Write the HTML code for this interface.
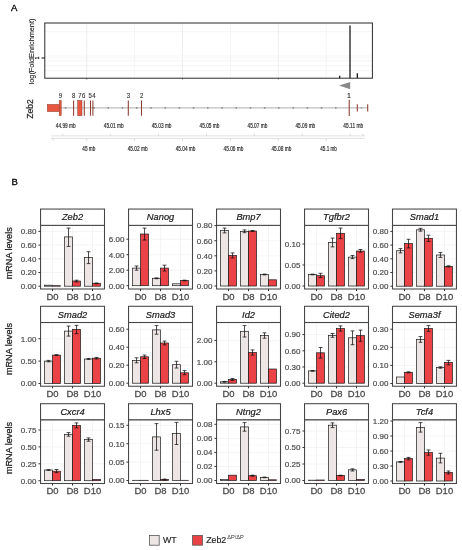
<!DOCTYPE html>
<html lang="en"><head><meta charset="utf-8"><title>Figure</title>
<style>html,body{margin:0;padding:0;background:#fff}svg{display:block}</style></head>
<body>
<svg width="462" height="550" viewBox="0 0 462 550" font-family='"Liberation Sans", sans-serif'>
<rect width="462" height="550" fill="#fff"/>
<defs><filter id="soft" x="0" y="0" width="462" height="550" filterUnits="userSpaceOnUse"><feGaussianBlur stdDeviation="0.32"/></filter></defs>
<g filter="url(#soft)">
<text transform="translate(10.90,10.60) scale(1,1)" font-size="9.5" fill="#000" stroke="#000" stroke-width="0.3">A</text>
<g stroke="#e2e2e2" stroke-width="0.6">
<line x1="86.70" y1="23.0" x2="86.70" y2="78.2"/>
<line x1="182.54" y1="23.0" x2="182.54" y2="78.2"/>
<line x1="278.38" y1="23.0" x2="278.38" y2="78.2"/>
</g>
<g stroke="#ededed" stroke-width="0.5">
<line x1="134.62" y1="23.0" x2="134.62" y2="78.2"/>
<line x1="230.46" y1="23.0" x2="230.46" y2="78.2"/>
<line x1="326.30" y1="23.0" x2="326.30" y2="78.2"/>
<line x1="44.8" y1="31.7" x2="372.4" y2="31.7"/>
<line x1="44.8" y1="56.0" x2="372.4" y2="56.0"/>
<line x1="44.8" y1="58.0" x2="372.4" y2="58.0"/>
<line x1="44.8" y1="60.8" x2="372.4" y2="60.8"/>
<line x1="44.8" y1="65.7" x2="372.4" y2="65.7"/>
<line x1="44.8" y1="70.6" x2="372.4" y2="70.6"/>
</g>
<g stroke="#111" stroke-width="1.25">
<line x1="350.0" y1="25.6" x2="350.0" y2="78.2"/>
<line x1="339.7" y1="75.8" x2="339.7" y2="78.2"/>
<line x1="357.3" y1="73.2" x2="357.3" y2="78.2"/>
</g>
<rect x="44.8" y="23.0" width="327.60" height="55.20" fill="none" stroke="#2a2a2a" stroke-width="1"/>
<g stroke="#333" stroke-width="0.6">
<line x1="86.70" y1="78.2" x2="86.70" y2="79.60000000000001"/>
<line x1="182.54" y1="78.2" x2="182.54" y2="79.60000000000001"/>
<line x1="278.38" y1="78.2" x2="278.38" y2="79.60000000000001"/>
<line x1="41.599999999999994" y1="58" x2="44.8" y2="58" stroke-width="1.1" stroke="#222"/>
</g>
<text transform="translate(38.7,58) rotate(-90)" font-size="4.7" stroke="#222" stroke-width="0.4" text-anchor="middle" fill="#222">1</text>
<text transform="translate(34.00,51.50) scale(1,1) rotate(-90)" font-size="7.3" text-anchor="middle" fill="#1a1a1a" stroke="#1a1a1a" stroke-width="0.1">log(FoldEnrichment)</text>
<polygon points="339,85.6 350.2,81.9 350.2,89.3" fill="#8a8a8a"/>
<text transform="translate(33.20,109.00) scale(1,1) rotate(-90)" font-size="8.6" text-anchor="middle" fill="#222" stroke="#222" stroke-width="0.2">Zeb2</text>
<line x1="61" y1="107.9" x2="367.7" y2="107.9" stroke="#8c8c8c" stroke-width="0.7"/>
<g fill="#777">
<rect x="335.0" y="107.30000000000001" width="1.6" height="1.2"/>
<rect x="320.8" y="107.30000000000001" width="1.6" height="1.2"/>
<rect x="306.6" y="107.30000000000001" width="1.6" height="1.2"/>
<rect x="292.4" y="107.30000000000001" width="1.6" height="1.2"/>
<rect x="278.1" y="107.30000000000001" width="1.6" height="1.2"/>
<rect x="263.9" y="107.30000000000001" width="1.6" height="1.2"/>
<rect x="249.7" y="107.30000000000001" width="1.6" height="1.2"/>
<rect x="235.5" y="107.30000000000001" width="1.6" height="1.2"/>
<rect x="221.3" y="107.30000000000001" width="1.6" height="1.2"/>
<rect x="207.0" y="107.30000000000001" width="1.6" height="1.2"/>
<rect x="192.8" y="107.30000000000001" width="1.6" height="1.2"/>
<rect x="178.6" y="107.30000000000001" width="1.6" height="1.2"/>
<rect x="164.4" y="107.30000000000001" width="1.6" height="1.2"/>
<rect x="150.2" y="107.30000000000001" width="1.6" height="1.2"/>
<rect x="135.9" y="107.30000000000001" width="1.6" height="1.2"/>
<rect x="121.7" y="107.30000000000001" width="1.6" height="1.2"/>
<rect x="107.5" y="107.30000000000001" width="1.6" height="1.2"/>
<rect x="93.3" y="107.30000000000001" width="1.6" height="1.2"/>
<rect x="79.1" y="107.30000000000001" width="1.6" height="1.2"/>
<rect x="64.8" y="107.30000000000001" width="1.6" height="1.2"/>
<rect x="360.8" y="107.35000000000001" width="1.4" height="1.1"/>
</g>
<g fill="#e8593f" stroke="#8c3a2e" stroke-width="0.5">
<rect x="47.3" y="104.4" width="11.9" height="7.2"/>
<rect x="59.2" y="100.5" width="2.0" height="15.2"/>
<rect x="77.7" y="100.5" width="4.3" height="15.2"/>
</g>
<g stroke="#8c3a2e" stroke-width="1.05">
<line x1="73.6" y1="100.5" x2="73.6" y2="115.7"/>
<line x1="84.3" y1="100.5" x2="84.3" y2="115.7"/>
<line x1="90.5" y1="100.5" x2="90.5" y2="115.7"/>
<line x1="92.9" y1="100.5" x2="92.9" y2="115.7"/>
<line x1="128.3" y1="100.5" x2="128.3" y2="115.7"/>
<line x1="141.5" y1="100.5" x2="141.5" y2="115.7"/>
<line x1="349.2" y1="99.7" x2="349.2" y2="116"/>
<line x1="357.3" y1="104.2" x2="357.3" y2="111.6"/>
<line x1="367.7" y1="104.2" x2="367.7" y2="111.6"/>
</g>
<g font-size="6.6" text-anchor="middle" fill="#333">
<text transform="translate(60.30,97.60) scale(1,1.12)" font-size="6.0" text-anchor="middle" fill="#333" stroke="#333" stroke-width="0.12">9</text>
<text transform="translate(73.60,97.60) scale(1,1.12)" font-size="6.0" text-anchor="middle" fill="#333" stroke="#333" stroke-width="0.12">8</text>
<text transform="translate(79.80,97.60) scale(1,1.12)" font-size="6.0" text-anchor="middle" fill="#333" stroke="#333" stroke-width="0.12">7</text>
<text transform="translate(83.70,97.60) scale(1,1.12)" font-size="6.0" text-anchor="middle" fill="#333" stroke="#333" stroke-width="0.12">6</text>
<text transform="translate(90.10,97.60) scale(1,1.12)" font-size="6.0" text-anchor="middle" fill="#333" stroke="#333" stroke-width="0.12">5</text>
<text transform="translate(94.00,97.60) scale(1,1.12)" font-size="6.0" text-anchor="middle" fill="#333" stroke="#333" stroke-width="0.12">4</text>
<text transform="translate(128.30,97.60) scale(1,1.12)" font-size="6.0" text-anchor="middle" fill="#333" stroke="#333" stroke-width="0.12">3</text>
<text transform="translate(141.70,97.60) scale(1,1.12)" font-size="6.0" text-anchor="middle" fill="#333" stroke="#333" stroke-width="0.12">2</text>
<text transform="translate(349.00,97.80) scale(1,1.12)" font-size="6.3" text-anchor="middle" fill="#222" stroke="#222" stroke-width="0.15">1</text>
</g>
<g stroke="#c9c9c9" stroke-width="0.6" fill="none">
<path d="M51.3 135.9 H364.7 L361.6 133.9"/>
<path d="M364.7 138.4 H51.3 L54.4 140.4"/>
<line x1="62.74" y1="133.5" x2="62.74" y2="135.9"/>
<line x1="110.66" y1="133.5" x2="110.66" y2="135.9"/>
<line x1="158.58" y1="133.5" x2="158.58" y2="135.9"/>
<line x1="206.50" y1="133.5" x2="206.50" y2="135.9"/>
<line x1="254.42" y1="133.5" x2="254.42" y2="135.9"/>
<line x1="302.34" y1="133.5" x2="302.34" y2="135.9"/>
<line x1="350.26" y1="133.5" x2="350.26" y2="135.9"/>
<line x1="86.70" y1="138.4" x2="86.70" y2="140.9"/>
<line x1="134.62" y1="138.4" x2="134.62" y2="140.9"/>
<line x1="182.54" y1="138.4" x2="182.54" y2="140.9"/>
<line x1="230.46" y1="138.4" x2="230.46" y2="140.9"/>
<line x1="278.38" y1="138.4" x2="278.38" y2="140.9"/>
<line x1="326.30" y1="138.4" x2="326.30" y2="140.9"/>
</g>
<g font-size="6.9" fill="#222">
<text transform="translate(55.84,127.90) scale(1,1.12)" font-size="6.6" fill="#222" stroke="#222" stroke-width="0.15" textLength="19.8" lengthAdjust="spacingAndGlyphs">44.99 mb</text>
<text transform="translate(103.76,127.90) scale(1,1.12)" font-size="6.6" fill="#222" stroke="#222" stroke-width="0.15" textLength="19.8" lengthAdjust="spacingAndGlyphs">45.01 mb</text>
<text transform="translate(151.68,127.90) scale(1,1.12)" font-size="6.6" fill="#222" stroke="#222" stroke-width="0.15" textLength="19.8" lengthAdjust="spacingAndGlyphs">45.03 mb</text>
<text transform="translate(199.60,127.90) scale(1,1.12)" font-size="6.6" fill="#222" stroke="#222" stroke-width="0.15" textLength="19.8" lengthAdjust="spacingAndGlyphs">45.05 mb</text>
<text transform="translate(247.52,127.90) scale(1,1.12)" font-size="6.6" fill="#222" stroke="#222" stroke-width="0.15" textLength="19.8" lengthAdjust="spacingAndGlyphs">45.07 mb</text>
<text transform="translate(295.44,127.90) scale(1,1.12)" font-size="6.6" fill="#222" stroke="#222" stroke-width="0.15" textLength="19.8" lengthAdjust="spacingAndGlyphs">45.09 mb</text>
<text transform="translate(343.36,127.90) scale(1,1.12)" font-size="6.6" fill="#222" stroke="#222" stroke-width="0.15" textLength="19.8" lengthAdjust="spacingAndGlyphs">45.11 mb</text>
<text transform="translate(82.30,150.90) scale(1,1.12)" font-size="6.6" fill="#222" stroke="#222" stroke-width="0.15" textLength="13.0" lengthAdjust="spacingAndGlyphs">45 mb</text>
<text transform="translate(127.72,150.90) scale(1,1.12)" font-size="6.6" fill="#222" stroke="#222" stroke-width="0.15" textLength="19.8" lengthAdjust="spacingAndGlyphs">45.02 mb</text>
<text transform="translate(175.64,150.90) scale(1,1.12)" font-size="6.6" fill="#222" stroke="#222" stroke-width="0.15" textLength="19.8" lengthAdjust="spacingAndGlyphs">45.04 mb</text>
<text transform="translate(223.56,150.90) scale(1,1.12)" font-size="6.6" fill="#222" stroke="#222" stroke-width="0.15" textLength="19.8" lengthAdjust="spacingAndGlyphs">45.06 mb</text>
<text transform="translate(271.48,150.90) scale(1,1.12)" font-size="6.6" fill="#222" stroke="#222" stroke-width="0.15" textLength="19.8" lengthAdjust="spacingAndGlyphs">45.08 mb</text>
<text transform="translate(320.30,150.90) scale(1,1.12)" font-size="6.6" fill="#222" stroke="#222" stroke-width="0.15" textLength="16.6" lengthAdjust="spacingAndGlyphs">45.1 mb</text>
</g>
<text transform="translate(11.60,185.10) scale(1,1)" font-size="9.5" fill="#000" stroke="#000" stroke-width="0.3">B</text>
<g stroke="#ebebeb" stroke-width="0.55">
<line x1="40.55" y1="286.20" x2="104.50" y2="286.20"/>
<line x1="40.55" y1="272.50" x2="104.50" y2="272.50"/>
<line x1="40.55" y1="258.80" x2="104.50" y2="258.80"/>
<line x1="40.55" y1="245.10" x2="104.50" y2="245.10"/>
<line x1="40.55" y1="231.40" x2="104.50" y2="231.40"/>
<line x1="52.54" y1="225.35" x2="52.54" y2="289.0"/>
<line x1="72.53" y1="225.35" x2="72.53" y2="289.0"/>
<line x1="92.51" y1="225.35" x2="92.51" y2="289.0"/>
</g>
<g stroke="#f5f5f5" stroke-width="0.35">
<line x1="40.55" y1="279.35" x2="104.50" y2="279.35"/>
<line x1="40.55" y1="265.65" x2="104.50" y2="265.65"/>
<line x1="40.55" y1="251.95" x2="104.50" y2="251.95"/>
<line x1="40.55" y1="238.25" x2="104.50" y2="238.25"/>
</g>
<g stroke="#1a1a1a" stroke-width="0.7">
<rect x="44.55" y="285.20" width="7.99" height="1.00" fill="#ede6e5"/>
<rect x="52.54" y="285.70" width="7.99" height="0.50" fill="#ea4246"/>
<rect x="64.53" y="236.90" width="7.99" height="49.30" fill="#ede6e5"/>
<rect x="72.53" y="281.00" width="7.99" height="5.20" fill="#ea4246"/>
<rect x="84.52" y="257.60" width="7.99" height="28.60" fill="#ede6e5"/>
<rect x="92.51" y="283.30" width="7.99" height="2.90" fill="#ea4246"/>
</g>
<g stroke="#111" stroke-width="0.75" fill="none">
<path d="M66.63 228.10H70.43M66.63 246.40H70.43M68.53 228.10V246.40"/>
<path d="M74.62 280.20H78.42M74.62 282.00H78.42M76.52 280.20V282.00"/>
<path d="M86.61 251.70H90.41M86.61 263.60H90.41M88.51 251.70V263.60"/>
<path d="M94.61 283.00H98.41M94.61 283.70H98.41M96.51 283.00V283.70"/>
</g>
<rect x="40.55" y="225.35" width="63.95" height="63.65" fill="none" stroke="#454545" stroke-width="1.05"/>
<rect x="40.55" y="209.05" width="63.95" height="16.30" fill="#fff" stroke="#454545" stroke-width="1.05"/>
<text transform="translate(72.53,220.40) scale(1,1.03)" font-size="9.3" text-anchor="middle" fill="#1a1a1a" stroke="#1a1a1a" stroke-width="0.2" font-style="italic">Zeb2</text>
<g stroke="#333" stroke-width="1">
<line x1="38.45" y1="286.20" x2="40.55" y2="286.20"/>
<line x1="38.45" y1="272.50" x2="40.55" y2="272.50"/>
<line x1="38.45" y1="258.80" x2="40.55" y2="258.80"/>
<line x1="38.45" y1="245.10" x2="40.55" y2="245.10"/>
<line x1="38.45" y1="231.40" x2="40.55" y2="231.40"/>
<line x1="52.54" y1="289.0" x2="52.54" y2="291.1"/>
<line x1="72.53" y1="289.0" x2="72.53" y2="291.1"/>
<line x1="92.51" y1="289.0" x2="92.51" y2="291.1"/>
</g>
<g font-size="8.0" text-anchor="end" fill="#4d4d4d" stroke="#4d4d4d" stroke-width="0.15">
<text transform="translate(36.45,289.00) scale(1,1.0)" font-size="8.0" text-anchor="end" fill="#4d4d4d" stroke="#4d4d4d" stroke-width="0.2">0.00</text>
<text transform="translate(36.45,275.30) scale(1,1.0)" font-size="8.0" text-anchor="end" fill="#4d4d4d" stroke="#4d4d4d" stroke-width="0.2">0.20</text>
<text transform="translate(36.45,261.60) scale(1,1.0)" font-size="8.0" text-anchor="end" fill="#4d4d4d" stroke="#4d4d4d" stroke-width="0.2">0.40</text>
<text transform="translate(36.45,247.90) scale(1,1.0)" font-size="8.0" text-anchor="end" fill="#4d4d4d" stroke="#4d4d4d" stroke-width="0.2">0.60</text>
<text transform="translate(36.45,234.20) scale(1,1.0)" font-size="8.0" text-anchor="end" fill="#4d4d4d" stroke="#4d4d4d" stroke-width="0.2">0.80</text>
</g>
<g font-size="9.5" text-anchor="middle" fill="#4d4d4d" stroke="#4d4d4d" stroke-width="0.15">
<text transform="translate(52.54,299.90) scale(1,0.9)" font-size="9.5" text-anchor="middle" fill="#4d4d4d" stroke="#4d4d4d" stroke-width="0.3">D0</text>
<text transform="translate(72.53,299.90) scale(1,0.9)" font-size="9.5" text-anchor="middle" fill="#4d4d4d" stroke="#4d4d4d" stroke-width="0.3">D8</text>
<text transform="translate(92.51,299.90) scale(1,0.9)" font-size="9.5" text-anchor="middle" fill="#4d4d4d" stroke="#4d4d4d" stroke-width="0.3">D10</text>
</g>
<g stroke="#ebebeb" stroke-width="0.55">
<line x1="128.55" y1="285.70" x2="192.50" y2="285.70"/>
<line x1="128.55" y1="270.20" x2="192.50" y2="270.20"/>
<line x1="128.55" y1="254.70" x2="192.50" y2="254.70"/>
<line x1="128.55" y1="239.20" x2="192.50" y2="239.20"/>
<line x1="140.54" y1="225.35" x2="140.54" y2="289.0"/>
<line x1="160.53" y1="225.35" x2="160.53" y2="289.0"/>
<line x1="180.51" y1="225.35" x2="180.51" y2="289.0"/>
</g>
<g stroke="#f5f5f5" stroke-width="0.35">
<line x1="128.55" y1="277.95" x2="192.50" y2="277.95"/>
<line x1="128.55" y1="262.45" x2="192.50" y2="262.45"/>
<line x1="128.55" y1="246.95" x2="192.50" y2="246.95"/>
<line x1="128.55" y1="231.45" x2="192.50" y2="231.45"/>
</g>
<g stroke="#1a1a1a" stroke-width="0.7">
<rect x="132.55" y="268.10" width="7.99" height="17.60" fill="#ede6e5"/>
<rect x="140.54" y="234.00" width="7.99" height="51.70" fill="#ea4246"/>
<rect x="152.53" y="278.30" width="7.99" height="7.40" fill="#ede6e5"/>
<rect x="160.53" y="268.10" width="7.99" height="17.60" fill="#ea4246"/>
<rect x="172.52" y="283.80" width="7.99" height="1.90" fill="#ede6e5"/>
<rect x="180.51" y="280.50" width="7.99" height="5.20" fill="#ea4246"/>
</g>
<g stroke="#111" stroke-width="0.75" fill="none">
<path d="M134.64 266.00H138.44M134.64 270.20H138.44M136.54 266.00V270.20"/>
<path d="M142.64 228.10H146.44M142.64 240.00H146.44M144.54 228.10V240.00"/>
<path d="M154.63 277.90H158.43M154.63 278.70H158.43M156.53 277.90V278.70"/>
<path d="M162.62 265.20H166.42M162.62 271.00H166.42M164.52 265.20V271.00"/>
<path d="M182.61 280.20H186.41M182.61 280.80H186.41M184.51 280.20V280.80"/>
</g>
<rect x="128.55" y="225.35" width="63.95" height="63.65" fill="none" stroke="#454545" stroke-width="1.05"/>
<rect x="128.55" y="209.05" width="63.95" height="16.30" fill="#fff" stroke="#454545" stroke-width="1.05"/>
<text transform="translate(160.53,220.40) scale(1,1.03)" font-size="9.3" text-anchor="middle" fill="#1a1a1a" stroke="#1a1a1a" stroke-width="0.2" font-style="italic">Nanog</text>
<g stroke="#333" stroke-width="1">
<line x1="126.45" y1="285.70" x2="128.55" y2="285.70"/>
<line x1="126.45" y1="270.20" x2="128.55" y2="270.20"/>
<line x1="126.45" y1="254.70" x2="128.55" y2="254.70"/>
<line x1="126.45" y1="239.20" x2="128.55" y2="239.20"/>
<line x1="140.54" y1="289.0" x2="140.54" y2="291.1"/>
<line x1="160.53" y1="289.0" x2="160.53" y2="291.1"/>
<line x1="180.51" y1="289.0" x2="180.51" y2="291.1"/>
</g>
<g font-size="8.0" text-anchor="end" fill="#4d4d4d" stroke="#4d4d4d" stroke-width="0.15">
<text transform="translate(124.45,288.50) scale(1,1.0)" font-size="8.0" text-anchor="end" fill="#4d4d4d" stroke="#4d4d4d" stroke-width="0.2">0.00</text>
<text transform="translate(124.45,273.00) scale(1,1.0)" font-size="8.0" text-anchor="end" fill="#4d4d4d" stroke="#4d4d4d" stroke-width="0.2">2.00</text>
<text transform="translate(124.45,257.50) scale(1,1.0)" font-size="8.0" text-anchor="end" fill="#4d4d4d" stroke="#4d4d4d" stroke-width="0.2">4.00</text>
<text transform="translate(124.45,242.00) scale(1,1.0)" font-size="8.0" text-anchor="end" fill="#4d4d4d" stroke="#4d4d4d" stroke-width="0.2">6.00</text>
</g>
<g font-size="9.5" text-anchor="middle" fill="#4d4d4d" stroke="#4d4d4d" stroke-width="0.15">
<text transform="translate(140.54,299.90) scale(1,0.9)" font-size="9.5" text-anchor="middle" fill="#4d4d4d" stroke="#4d4d4d" stroke-width="0.3">D0</text>
<text transform="translate(160.53,299.90) scale(1,0.9)" font-size="9.5" text-anchor="middle" fill="#4d4d4d" stroke="#4d4d4d" stroke-width="0.3">D8</text>
<text transform="translate(180.51,299.90) scale(1,0.9)" font-size="9.5" text-anchor="middle" fill="#4d4d4d" stroke="#4d4d4d" stroke-width="0.3">D10</text>
</g>
<g stroke="#ebebeb" stroke-width="0.55">
<line x1="216.55" y1="286.00" x2="280.50" y2="286.00"/>
<line x1="216.55" y1="270.90" x2="280.50" y2="270.90"/>
<line x1="216.55" y1="255.80" x2="280.50" y2="255.80"/>
<line x1="216.55" y1="240.70" x2="280.50" y2="240.70"/>
<line x1="228.54" y1="225.35" x2="228.54" y2="289.0"/>
<line x1="248.53" y1="225.35" x2="248.53" y2="289.0"/>
<line x1="268.51" y1="225.35" x2="268.51" y2="289.0"/>
</g>
<g stroke="#f5f5f5" stroke-width="0.35">
<line x1="216.55" y1="278.45" x2="280.50" y2="278.45"/>
<line x1="216.55" y1="263.35" x2="280.50" y2="263.35"/>
<line x1="216.55" y1="248.25" x2="280.50" y2="248.25"/>
<line x1="216.55" y1="233.15" x2="280.50" y2="233.15"/>
</g>
<g stroke="#1a1a1a" stroke-width="0.7">
<rect x="220.55" y="230.50" width="7.99" height="55.50" fill="#ede6e5"/>
<rect x="228.54" y="255.50" width="7.99" height="30.50" fill="#ea4246"/>
<rect x="240.53" y="231.40" width="7.99" height="54.60" fill="#ede6e5"/>
<rect x="248.53" y="231.00" width="7.99" height="55.00" fill="#ea4246"/>
<rect x="260.52" y="274.50" width="7.99" height="11.50" fill="#ede6e5"/>
<rect x="268.51" y="279.80" width="7.99" height="6.20" fill="#ea4246"/>
</g>
<g stroke="#111" stroke-width="0.75" fill="none">
<path d="M222.64 228.10H226.44M222.64 232.90H226.44M224.54 228.10V232.90"/>
<path d="M230.64 252.90H234.44M230.64 257.90H234.44M232.54 252.90V257.90"/>
<path d="M242.63 229.90H246.43M242.63 232.70H246.43M244.53 229.90V232.70"/>
<path d="M250.62 230.50H254.42M250.62 231.50H254.42M252.52 230.50V231.50"/>
<path d="M262.61 274.10H266.41M262.61 274.90H266.41M264.51 274.10V274.90"/>
</g>
<rect x="216.55" y="225.35" width="63.95" height="63.65" fill="none" stroke="#454545" stroke-width="1.05"/>
<rect x="216.55" y="209.05" width="63.95" height="16.30" fill="#fff" stroke="#454545" stroke-width="1.05"/>
<text transform="translate(248.53,220.40) scale(1,1.03)" font-size="9.3" text-anchor="middle" fill="#1a1a1a" stroke="#1a1a1a" stroke-width="0.2" font-style="italic">Bmp7</text>
<g stroke="#333" stroke-width="1">
<line x1="214.45" y1="286.00" x2="216.55" y2="286.00"/>
<line x1="214.45" y1="270.90" x2="216.55" y2="270.90"/>
<line x1="214.45" y1="255.80" x2="216.55" y2="255.80"/>
<line x1="214.45" y1="240.70" x2="216.55" y2="240.70"/>
<line x1="214.45" y1="225.60" x2="216.55" y2="225.60"/>
<line x1="228.54" y1="289.0" x2="228.54" y2="291.1"/>
<line x1="248.53" y1="289.0" x2="248.53" y2="291.1"/>
<line x1="268.51" y1="289.0" x2="268.51" y2="291.1"/>
</g>
<g font-size="8.0" text-anchor="end" fill="#4d4d4d" stroke="#4d4d4d" stroke-width="0.15">
<text transform="translate(212.45,288.80) scale(1,1.0)" font-size="8.0" text-anchor="end" fill="#4d4d4d" stroke="#4d4d4d" stroke-width="0.2">0.00</text>
<text transform="translate(212.45,273.70) scale(1,1.0)" font-size="8.0" text-anchor="end" fill="#4d4d4d" stroke="#4d4d4d" stroke-width="0.2">0.20</text>
<text transform="translate(212.45,258.60) scale(1,1.0)" font-size="8.0" text-anchor="end" fill="#4d4d4d" stroke="#4d4d4d" stroke-width="0.2">0.40</text>
<text transform="translate(212.45,243.50) scale(1,1.0)" font-size="8.0" text-anchor="end" fill="#4d4d4d" stroke="#4d4d4d" stroke-width="0.2">0.60</text>
<text transform="translate(212.45,228.40) scale(1,1.0)" font-size="8.0" text-anchor="end" fill="#4d4d4d" stroke="#4d4d4d" stroke-width="0.2">0.80</text>
</g>
<g font-size="9.5" text-anchor="middle" fill="#4d4d4d" stroke="#4d4d4d" stroke-width="0.15">
<text transform="translate(228.54,299.90) scale(1,0.9)" font-size="9.5" text-anchor="middle" fill="#4d4d4d" stroke="#4d4d4d" stroke-width="0.3">D0</text>
<text transform="translate(248.53,299.90) scale(1,0.9)" font-size="9.5" text-anchor="middle" fill="#4d4d4d" stroke="#4d4d4d" stroke-width="0.3">D8</text>
<text transform="translate(268.51,299.90) scale(1,0.9)" font-size="9.5" text-anchor="middle" fill="#4d4d4d" stroke="#4d4d4d" stroke-width="0.3">D10</text>
</g>
<g stroke="#ebebeb" stroke-width="0.55">
<line x1="304.55" y1="286.00" x2="368.50" y2="286.00"/>
<line x1="304.55" y1="265.00" x2="368.50" y2="265.00"/>
<line x1="304.55" y1="244.00" x2="368.50" y2="244.00"/>
<line x1="316.54" y1="225.35" x2="316.54" y2="289.0"/>
<line x1="336.53" y1="225.35" x2="336.53" y2="289.0"/>
<line x1="356.51" y1="225.35" x2="356.51" y2="289.0"/>
</g>
<g stroke="#f5f5f5" stroke-width="0.35">
<line x1="304.55" y1="275.50" x2="368.50" y2="275.50"/>
<line x1="304.55" y1="254.50" x2="368.50" y2="254.50"/>
<line x1="304.55" y1="233.50" x2="368.50" y2="233.50"/>
</g>
<g stroke="#1a1a1a" stroke-width="0.7">
<rect x="308.55" y="274.50" width="7.99" height="11.50" fill="#ede6e5"/>
<rect x="316.54" y="275.70" width="7.99" height="10.30" fill="#ea4246"/>
<rect x="328.53" y="242.40" width="7.99" height="43.60" fill="#ede6e5"/>
<rect x="336.53" y="233.30" width="7.99" height="52.70" fill="#ea4246"/>
<rect x="348.52" y="257.10" width="7.99" height="28.90" fill="#ede6e5"/>
<rect x="356.51" y="251.00" width="7.99" height="35.00" fill="#ea4246"/>
</g>
<g stroke="#111" stroke-width="0.75" fill="none">
<path d="M310.64 274.20H314.44M310.64 274.80H314.44M312.54 274.20V274.80"/>
<path d="M318.64 273.30H322.44M318.64 277.60H322.44M320.54 273.30V277.60"/>
<path d="M330.63 238.10H334.43M330.63 246.90H334.43M332.53 238.10V246.90"/>
<path d="M338.62 228.10H342.42M338.62 238.60H342.42M340.52 228.10V238.60"/>
<path d="M350.61 255.50H354.41M350.61 258.60H354.41M352.51 255.50V258.60"/>
<path d="M358.61 249.50H362.41M358.61 252.20H362.41M360.51 249.50V252.20"/>
</g>
<rect x="304.55" y="225.35" width="63.95" height="63.65" fill="none" stroke="#454545" stroke-width="1.05"/>
<rect x="304.55" y="209.05" width="63.95" height="16.30" fill="#fff" stroke="#454545" stroke-width="1.05"/>
<text transform="translate(336.52,220.40) scale(1,1.03)" font-size="9.3" text-anchor="middle" fill="#1a1a1a" stroke="#1a1a1a" stroke-width="0.2" font-style="italic">Tgfbr2</text>
<g stroke="#333" stroke-width="1">
<line x1="302.45" y1="286.00" x2="304.55" y2="286.00"/>
<line x1="302.45" y1="265.00" x2="304.55" y2="265.00"/>
<line x1="302.45" y1="244.00" x2="304.55" y2="244.00"/>
<line x1="316.54" y1="289.0" x2="316.54" y2="291.1"/>
<line x1="336.53" y1="289.0" x2="336.53" y2="291.1"/>
<line x1="356.51" y1="289.0" x2="356.51" y2="291.1"/>
</g>
<g font-size="8.0" text-anchor="end" fill="#4d4d4d" stroke="#4d4d4d" stroke-width="0.15">
<text transform="translate(300.45,288.80) scale(1,1.0)" font-size="8.0" text-anchor="end" fill="#4d4d4d" stroke="#4d4d4d" stroke-width="0.2">0.00</text>
<text transform="translate(300.45,267.80) scale(1,1.0)" font-size="8.0" text-anchor="end" fill="#4d4d4d" stroke="#4d4d4d" stroke-width="0.2">0.05</text>
<text transform="translate(300.45,246.80) scale(1,1.0)" font-size="8.0" text-anchor="end" fill="#4d4d4d" stroke="#4d4d4d" stroke-width="0.2">0.10</text>
</g>
<g font-size="9.5" text-anchor="middle" fill="#4d4d4d" stroke="#4d4d4d" stroke-width="0.15">
<text transform="translate(316.54,299.90) scale(1,0.9)" font-size="9.5" text-anchor="middle" fill="#4d4d4d" stroke="#4d4d4d" stroke-width="0.3">D0</text>
<text transform="translate(336.53,299.90) scale(1,0.9)" font-size="9.5" text-anchor="middle" fill="#4d4d4d" stroke="#4d4d4d" stroke-width="0.3">D8</text>
<text transform="translate(356.51,299.90) scale(1,0.9)" font-size="9.5" text-anchor="middle" fill="#4d4d4d" stroke="#4d4d4d" stroke-width="0.3">D10</text>
</g>
<g stroke="#ebebeb" stroke-width="0.55">
<line x1="392.5" y1="286.20" x2="456.45" y2="286.20"/>
<line x1="392.5" y1="272.50" x2="456.45" y2="272.50"/>
<line x1="392.5" y1="258.80" x2="456.45" y2="258.80"/>
<line x1="392.5" y1="245.10" x2="456.45" y2="245.10"/>
<line x1="392.5" y1="231.40" x2="456.45" y2="231.40"/>
<line x1="404.49" y1="225.35" x2="404.49" y2="289.0"/>
<line x1="424.48" y1="225.35" x2="424.48" y2="289.0"/>
<line x1="444.46" y1="225.35" x2="444.46" y2="289.0"/>
</g>
<g stroke="#f5f5f5" stroke-width="0.35">
<line x1="392.5" y1="279.35" x2="456.45" y2="279.35"/>
<line x1="392.5" y1="265.65" x2="456.45" y2="265.65"/>
<line x1="392.5" y1="251.95" x2="456.45" y2="251.95"/>
<line x1="392.5" y1="238.25" x2="456.45" y2="238.25"/>
</g>
<g stroke="#1a1a1a" stroke-width="0.7">
<rect x="396.50" y="250.70" width="7.99" height="35.50" fill="#ede6e5"/>
<rect x="404.49" y="243.60" width="7.99" height="42.60" fill="#ea4246"/>
<rect x="416.48" y="229.80" width="7.99" height="56.40" fill="#ede6e5"/>
<rect x="424.48" y="238.30" width="7.99" height="47.90" fill="#ea4246"/>
<rect x="436.47" y="255.00" width="7.99" height="31.20" fill="#ede6e5"/>
<rect x="444.46" y="266.40" width="7.99" height="19.80" fill="#ea4246"/>
</g>
<g stroke="#111" stroke-width="0.75" fill="none">
<path d="M398.59 248.60H402.39M398.59 252.90H402.39M400.49 248.60V252.90"/>
<path d="M406.59 239.30H410.39M406.59 247.90H410.39M408.49 239.30V247.90"/>
<path d="M418.58 228.30H422.38M418.58 231.20H422.38M420.48 228.30V231.20"/>
<path d="M426.57 235.20H430.37M426.57 241.40H430.37M428.47 235.20V241.40"/>
<path d="M438.56 252.60H442.36M438.56 257.40H442.36M440.46 252.60V257.40"/>
<path d="M446.56 265.80H450.36M446.56 267.00H450.36M448.46 265.80V267.00"/>
</g>
<rect x="392.5" y="225.35" width="63.95" height="63.65" fill="none" stroke="#454545" stroke-width="1.05"/>
<rect x="392.5" y="209.05" width="63.95" height="16.30" fill="#fff" stroke="#454545" stroke-width="1.05"/>
<text transform="translate(424.48,220.40) scale(1,1.03)" font-size="9.3" text-anchor="middle" fill="#1a1a1a" stroke="#1a1a1a" stroke-width="0.2" font-style="italic">Smad1</text>
<g stroke="#333" stroke-width="1">
<line x1="390.40" y1="286.20" x2="392.5" y2="286.20"/>
<line x1="390.40" y1="272.50" x2="392.5" y2="272.50"/>
<line x1="390.40" y1="258.80" x2="392.5" y2="258.80"/>
<line x1="390.40" y1="245.10" x2="392.5" y2="245.10"/>
<line x1="390.40" y1="231.40" x2="392.5" y2="231.40"/>
<line x1="404.49" y1="289.0" x2="404.49" y2="291.1"/>
<line x1="424.48" y1="289.0" x2="424.48" y2="291.1"/>
<line x1="444.46" y1="289.0" x2="444.46" y2="291.1"/>
</g>
<g font-size="8.0" text-anchor="end" fill="#4d4d4d" stroke="#4d4d4d" stroke-width="0.15">
<text transform="translate(388.40,289.00) scale(1,1.0)" font-size="8.0" text-anchor="end" fill="#4d4d4d" stroke="#4d4d4d" stroke-width="0.2">0.00</text>
<text transform="translate(388.40,275.30) scale(1,1.0)" font-size="8.0" text-anchor="end" fill="#4d4d4d" stroke="#4d4d4d" stroke-width="0.2">0.20</text>
<text transform="translate(388.40,261.60) scale(1,1.0)" font-size="8.0" text-anchor="end" fill="#4d4d4d" stroke="#4d4d4d" stroke-width="0.2">0.40</text>
<text transform="translate(388.40,247.90) scale(1,1.0)" font-size="8.0" text-anchor="end" fill="#4d4d4d" stroke="#4d4d4d" stroke-width="0.2">0.60</text>
<text transform="translate(388.40,234.20) scale(1,1.0)" font-size="8.0" text-anchor="end" fill="#4d4d4d" stroke="#4d4d4d" stroke-width="0.2">0.80</text>
</g>
<g font-size="9.5" text-anchor="middle" fill="#4d4d4d" stroke="#4d4d4d" stroke-width="0.15">
<text transform="translate(404.49,299.90) scale(1,0.9)" font-size="9.5" text-anchor="middle" fill="#4d4d4d" stroke="#4d4d4d" stroke-width="0.3">D0</text>
<text transform="translate(424.48,299.90) scale(1,0.9)" font-size="9.5" text-anchor="middle" fill="#4d4d4d" stroke="#4d4d4d" stroke-width="0.3">D8</text>
<text transform="translate(444.46,299.90) scale(1,0.9)" font-size="9.5" text-anchor="middle" fill="#4d4d4d" stroke="#4d4d4d" stroke-width="0.3">D10</text>
</g>
<g stroke="#ebebeb" stroke-width="0.55">
<line x1="40.55" y1="383.50" x2="104.50" y2="383.50"/>
<line x1="40.55" y1="361.10" x2="104.50" y2="361.10"/>
<line x1="40.55" y1="338.70" x2="104.50" y2="338.70"/>
<line x1="52.54" y1="322.5" x2="52.54" y2="386.25"/>
<line x1="72.53" y1="322.5" x2="72.53" y2="386.25"/>
<line x1="92.51" y1="322.5" x2="92.51" y2="386.25"/>
</g>
<g stroke="#f5f5f5" stroke-width="0.35">
<line x1="40.55" y1="372.30" x2="104.50" y2="372.30"/>
<line x1="40.55" y1="349.90" x2="104.50" y2="349.90"/>
<line x1="40.55" y1="327.50" x2="104.50" y2="327.50"/>
</g>
<g stroke="#1a1a1a" stroke-width="0.7">
<rect x="44.55" y="361.10" width="7.99" height="22.40" fill="#ede6e5"/>
<rect x="52.54" y="355.10" width="7.99" height="28.40" fill="#ea4246"/>
<rect x="64.53" y="331.10" width="7.99" height="52.40" fill="#ede6e5"/>
<rect x="72.53" y="329.40" width="7.99" height="54.10" fill="#ea4246"/>
<rect x="84.52" y="359.00" width="7.99" height="24.50" fill="#ede6e5"/>
<rect x="92.51" y="358.20" width="7.99" height="25.30" fill="#ea4246"/>
</g>
<g stroke="#111" stroke-width="0.75" fill="none">
<path d="M46.64 360.40H50.44M46.64 361.80H50.44M48.54 360.40V361.80"/>
<path d="M54.64 354.70H58.44M54.64 355.50H58.44M56.54 354.70V355.50"/>
<path d="M66.63 326.10H70.43M66.63 336.10H70.43M68.53 326.10V336.10"/>
<path d="M74.62 325.40H78.42M74.62 333.70H78.42M76.52 325.40V333.70"/>
<path d="M86.61 358.60H90.41M86.61 359.40H90.41M88.51 358.60V359.40"/>
<path d="M94.61 357.40H98.41M94.61 359.00H98.41M96.51 357.40V359.00"/>
</g>
<rect x="40.55" y="322.5" width="63.95" height="63.75" fill="none" stroke="#454545" stroke-width="1.05"/>
<rect x="40.55" y="306.3" width="63.95" height="16.20" fill="#fff" stroke="#454545" stroke-width="1.05"/>
<text transform="translate(72.53,317.60) scale(1,1.03)" font-size="9.3" text-anchor="middle" fill="#1a1a1a" stroke="#1a1a1a" stroke-width="0.2" font-style="italic">Smad2</text>
<g stroke="#333" stroke-width="1">
<line x1="38.45" y1="383.50" x2="40.55" y2="383.50"/>
<line x1="38.45" y1="361.10" x2="40.55" y2="361.10"/>
<line x1="38.45" y1="338.70" x2="40.55" y2="338.70"/>
<line x1="52.54" y1="386.25" x2="52.54" y2="388.35"/>
<line x1="72.53" y1="386.25" x2="72.53" y2="388.35"/>
<line x1="92.51" y1="386.25" x2="92.51" y2="388.35"/>
</g>
<g font-size="8.0" text-anchor="end" fill="#4d4d4d" stroke="#4d4d4d" stroke-width="0.15">
<text transform="translate(36.45,386.30) scale(1,1.0)" font-size="8.0" text-anchor="end" fill="#4d4d4d" stroke="#4d4d4d" stroke-width="0.2">0.00</text>
<text transform="translate(36.45,363.90) scale(1,1.0)" font-size="8.0" text-anchor="end" fill="#4d4d4d" stroke="#4d4d4d" stroke-width="0.2">0.50</text>
<text transform="translate(36.45,341.50) scale(1,1.0)" font-size="8.0" text-anchor="end" fill="#4d4d4d" stroke="#4d4d4d" stroke-width="0.2">1.00</text>
</g>
<g font-size="9.5" text-anchor="middle" fill="#4d4d4d" stroke="#4d4d4d" stroke-width="0.15">
<text transform="translate(52.54,397.15) scale(1,0.9)" font-size="9.5" text-anchor="middle" fill="#4d4d4d" stroke="#4d4d4d" stroke-width="0.3">D0</text>
<text transform="translate(72.53,397.15) scale(1,0.9)" font-size="9.5" text-anchor="middle" fill="#4d4d4d" stroke="#4d4d4d" stroke-width="0.3">D8</text>
<text transform="translate(92.51,397.15) scale(1,0.9)" font-size="9.5" text-anchor="middle" fill="#4d4d4d" stroke="#4d4d4d" stroke-width="0.3">D10</text>
</g>
<g stroke="#ebebeb" stroke-width="0.55">
<line x1="128.55" y1="383.20" x2="192.50" y2="383.20"/>
<line x1="128.55" y1="365.20" x2="192.50" y2="365.20"/>
<line x1="128.55" y1="347.20" x2="192.50" y2="347.20"/>
<line x1="128.55" y1="329.20" x2="192.50" y2="329.20"/>
<line x1="140.54" y1="322.5" x2="140.54" y2="386.25"/>
<line x1="160.53" y1="322.5" x2="160.53" y2="386.25"/>
<line x1="180.51" y1="322.5" x2="180.51" y2="386.25"/>
</g>
<g stroke="#f5f5f5" stroke-width="0.35">
<line x1="128.55" y1="374.20" x2="192.50" y2="374.20"/>
<line x1="128.55" y1="356.20" x2="192.50" y2="356.20"/>
<line x1="128.55" y1="338.20" x2="192.50" y2="338.20"/>
</g>
<g stroke="#1a1a1a" stroke-width="0.7">
<rect x="132.55" y="360.40" width="7.99" height="22.80" fill="#ede6e5"/>
<rect x="140.54" y="356.80" width="7.99" height="26.40" fill="#ea4246"/>
<rect x="152.53" y="329.90" width="7.99" height="53.30" fill="#ede6e5"/>
<rect x="160.53" y="343.00" width="7.99" height="40.20" fill="#ea4246"/>
<rect x="172.52" y="364.70" width="7.99" height="18.50" fill="#ede6e5"/>
<rect x="180.51" y="372.80" width="7.99" height="10.40" fill="#ea4246"/>
</g>
<g stroke="#111" stroke-width="0.75" fill="none">
<path d="M134.64 357.80H138.44M134.64 362.80H138.44M136.54 357.80V362.80"/>
<path d="M142.64 355.10H146.44M142.64 358.50H146.44M144.54 355.10V358.50"/>
<path d="M154.63 325.60H158.43M154.63 334.20H158.43M156.53 325.60V334.20"/>
<path d="M162.62 341.10H166.42M162.62 344.90H166.42M164.52 341.10V344.90"/>
<path d="M174.61 361.30H178.41M174.61 368.00H178.41M176.51 361.30V368.00"/>
<path d="M182.61 370.60H186.41M182.61 374.70H186.41M184.51 370.60V374.70"/>
</g>
<rect x="128.55" y="322.5" width="63.95" height="63.75" fill="none" stroke="#454545" stroke-width="1.05"/>
<rect x="128.55" y="306.3" width="63.95" height="16.20" fill="#fff" stroke="#454545" stroke-width="1.05"/>
<text transform="translate(160.53,317.60) scale(1,1.03)" font-size="9.3" text-anchor="middle" fill="#1a1a1a" stroke="#1a1a1a" stroke-width="0.2" font-style="italic">Smad3</text>
<g stroke="#333" stroke-width="1">
<line x1="126.45" y1="383.20" x2="128.55" y2="383.20"/>
<line x1="126.45" y1="365.20" x2="128.55" y2="365.20"/>
<line x1="126.45" y1="347.20" x2="128.55" y2="347.20"/>
<line x1="126.45" y1="329.20" x2="128.55" y2="329.20"/>
<line x1="140.54" y1="386.25" x2="140.54" y2="388.35"/>
<line x1="160.53" y1="386.25" x2="160.53" y2="388.35"/>
<line x1="180.51" y1="386.25" x2="180.51" y2="388.35"/>
</g>
<g font-size="8.0" text-anchor="end" fill="#4d4d4d" stroke="#4d4d4d" stroke-width="0.15">
<text transform="translate(124.45,386.00) scale(1,1.0)" font-size="8.0" text-anchor="end" fill="#4d4d4d" stroke="#4d4d4d" stroke-width="0.2">0.00</text>
<text transform="translate(124.45,368.00) scale(1,1.0)" font-size="8.0" text-anchor="end" fill="#4d4d4d" stroke="#4d4d4d" stroke-width="0.2">0.20</text>
<text transform="translate(124.45,350.00) scale(1,1.0)" font-size="8.0" text-anchor="end" fill="#4d4d4d" stroke="#4d4d4d" stroke-width="0.2">0.40</text>
<text transform="translate(124.45,332.00) scale(1,1.0)" font-size="8.0" text-anchor="end" fill="#4d4d4d" stroke="#4d4d4d" stroke-width="0.2">0.60</text>
</g>
<g font-size="9.5" text-anchor="middle" fill="#4d4d4d" stroke="#4d4d4d" stroke-width="0.15">
<text transform="translate(140.54,397.15) scale(1,0.9)" font-size="9.5" text-anchor="middle" fill="#4d4d4d" stroke="#4d4d4d" stroke-width="0.3">D0</text>
<text transform="translate(160.53,397.15) scale(1,0.9)" font-size="9.5" text-anchor="middle" fill="#4d4d4d" stroke="#4d4d4d" stroke-width="0.3">D8</text>
<text transform="translate(180.51,397.15) scale(1,0.9)" font-size="9.5" text-anchor="middle" fill="#4d4d4d" stroke="#4d4d4d" stroke-width="0.3">D10</text>
</g>
<g stroke="#ebebeb" stroke-width="0.55">
<line x1="216.55" y1="383.20" x2="280.50" y2="383.20"/>
<line x1="216.55" y1="361.80" x2="280.50" y2="361.80"/>
<line x1="216.55" y1="340.40" x2="280.50" y2="340.40"/>
<line x1="228.54" y1="322.5" x2="228.54" y2="386.25"/>
<line x1="248.53" y1="322.5" x2="248.53" y2="386.25"/>
<line x1="268.51" y1="322.5" x2="268.51" y2="386.25"/>
</g>
<g stroke="#f5f5f5" stroke-width="0.35">
<line x1="216.55" y1="372.50" x2="280.50" y2="372.50"/>
<line x1="216.55" y1="351.10" x2="280.50" y2="351.10"/>
<line x1="216.55" y1="329.70" x2="280.50" y2="329.70"/>
</g>
<g stroke="#1a1a1a" stroke-width="0.7">
<rect x="220.55" y="381.80" width="7.99" height="1.40" fill="#ede6e5"/>
<rect x="228.54" y="379.40" width="7.99" height="3.80" fill="#ea4246"/>
<rect x="240.53" y="331.30" width="7.99" height="51.90" fill="#ede6e5"/>
<rect x="248.53" y="352.50" width="7.99" height="30.70" fill="#ea4246"/>
<rect x="260.52" y="335.40" width="7.99" height="47.80" fill="#ede6e5"/>
<rect x="268.51" y="369.00" width="7.99" height="14.20" fill="#ea4246"/>
</g>
<g stroke="#111" stroke-width="0.75" fill="none">
<path d="M222.64 381.40H226.44M222.64 382.20H226.44M224.54 381.40V382.20"/>
<path d="M230.64 378.50H234.44M230.64 380.40H234.44M232.54 378.50V380.40"/>
<path d="M242.63 325.60H246.43M242.63 337.00H246.43M244.53 325.60V337.00"/>
<path d="M250.62 349.90H254.42M250.62 355.10H254.42M252.52 349.90V355.10"/>
<path d="M262.61 332.80H266.41M262.61 338.20H266.41M264.51 332.80V338.20"/>
</g>
<rect x="216.55" y="322.5" width="63.95" height="63.75" fill="none" stroke="#454545" stroke-width="1.05"/>
<rect x="216.55" y="306.3" width="63.95" height="16.20" fill="#fff" stroke="#454545" stroke-width="1.05"/>
<text transform="translate(248.53,317.60) scale(1,1.03)" font-size="9.3" text-anchor="middle" fill="#1a1a1a" stroke="#1a1a1a" stroke-width="0.2" font-style="italic">Id2</text>
<g stroke="#333" stroke-width="1">
<line x1="214.45" y1="383.20" x2="216.55" y2="383.20"/>
<line x1="214.45" y1="361.80" x2="216.55" y2="361.80"/>
<line x1="214.45" y1="340.40" x2="216.55" y2="340.40"/>
<line x1="228.54" y1="386.25" x2="228.54" y2="388.35"/>
<line x1="248.53" y1="386.25" x2="248.53" y2="388.35"/>
<line x1="268.51" y1="386.25" x2="268.51" y2="388.35"/>
</g>
<g font-size="8.0" text-anchor="end" fill="#4d4d4d" stroke="#4d4d4d" stroke-width="0.15">
<text transform="translate(212.45,386.00) scale(1,1.0)" font-size="8.0" text-anchor="end" fill="#4d4d4d" stroke="#4d4d4d" stroke-width="0.2">0.00</text>
<text transform="translate(212.45,364.60) scale(1,1.0)" font-size="8.0" text-anchor="end" fill="#4d4d4d" stroke="#4d4d4d" stroke-width="0.2">1.00</text>
<text transform="translate(212.45,343.20) scale(1,1.0)" font-size="8.0" text-anchor="end" fill="#4d4d4d" stroke="#4d4d4d" stroke-width="0.2">2.00</text>
</g>
<g font-size="9.5" text-anchor="middle" fill="#4d4d4d" stroke="#4d4d4d" stroke-width="0.15">
<text transform="translate(228.54,397.15) scale(1,0.9)" font-size="9.5" text-anchor="middle" fill="#4d4d4d" stroke="#4d4d4d" stroke-width="0.3">D0</text>
<text transform="translate(248.53,397.15) scale(1,0.9)" font-size="9.5" text-anchor="middle" fill="#4d4d4d" stroke="#4d4d4d" stroke-width="0.3">D8</text>
<text transform="translate(268.51,397.15) scale(1,0.9)" font-size="9.5" text-anchor="middle" fill="#4d4d4d" stroke="#4d4d4d" stroke-width="0.3">D10</text>
</g>
<g stroke="#ebebeb" stroke-width="0.55">
<line x1="304.55" y1="383.20" x2="368.50" y2="383.20"/>
<line x1="304.55" y1="367.00" x2="368.50" y2="367.00"/>
<line x1="304.55" y1="350.80" x2="368.50" y2="350.80"/>
<line x1="304.55" y1="334.60" x2="368.50" y2="334.60"/>
<line x1="316.54" y1="322.5" x2="316.54" y2="386.25"/>
<line x1="336.53" y1="322.5" x2="336.53" y2="386.25"/>
<line x1="356.51" y1="322.5" x2="356.51" y2="386.25"/>
</g>
<g stroke="#f5f5f5" stroke-width="0.35">
<line x1="304.55" y1="375.10" x2="368.50" y2="375.10"/>
<line x1="304.55" y1="358.90" x2="368.50" y2="358.90"/>
<line x1="304.55" y1="342.70" x2="368.50" y2="342.70"/>
<line x1="304.55" y1="326.50" x2="368.50" y2="326.50"/>
</g>
<g stroke="#1a1a1a" stroke-width="0.7">
<rect x="308.55" y="370.90" width="7.99" height="12.30" fill="#ede6e5"/>
<rect x="316.54" y="352.80" width="7.99" height="30.40" fill="#ea4246"/>
<rect x="328.53" y="335.40" width="7.99" height="47.80" fill="#ede6e5"/>
<rect x="336.53" y="328.50" width="7.99" height="54.70" fill="#ea4246"/>
<rect x="348.52" y="337.80" width="7.99" height="45.40" fill="#ede6e5"/>
<rect x="356.51" y="335.60" width="7.99" height="47.60" fill="#ea4246"/>
</g>
<g stroke="#111" stroke-width="0.75" fill="none">
<path d="M310.64 370.60H314.44M310.64 371.20H314.44M312.54 370.60V371.20"/>
<path d="M318.64 347.50H322.44M318.64 358.00H322.44M320.54 347.50V358.00"/>
<path d="M330.63 333.50H334.43M330.63 337.30H334.43M332.53 333.50V337.30"/>
<path d="M338.62 325.90H342.42M338.62 331.10H342.42M340.52 325.90V331.10"/>
<path d="M350.61 330.90H354.41M350.61 344.70H354.41M352.51 330.90V344.70"/>
<path d="M358.61 330.10H362.41M358.61 341.30H362.41M360.51 330.10V341.30"/>
</g>
<rect x="304.55" y="322.5" width="63.95" height="63.75" fill="none" stroke="#454545" stroke-width="1.05"/>
<rect x="304.55" y="306.3" width="63.95" height="16.20" fill="#fff" stroke="#454545" stroke-width="1.05"/>
<text transform="translate(336.52,317.60) scale(1,1.03)" font-size="9.3" text-anchor="middle" fill="#1a1a1a" stroke="#1a1a1a" stroke-width="0.2" font-style="italic">Cited2</text>
<g stroke="#333" stroke-width="1">
<line x1="302.45" y1="383.20" x2="304.55" y2="383.20"/>
<line x1="302.45" y1="367.00" x2="304.55" y2="367.00"/>
<line x1="302.45" y1="350.80" x2="304.55" y2="350.80"/>
<line x1="302.45" y1="334.60" x2="304.55" y2="334.60"/>
<line x1="316.54" y1="386.25" x2="316.54" y2="388.35"/>
<line x1="336.53" y1="386.25" x2="336.53" y2="388.35"/>
<line x1="356.51" y1="386.25" x2="356.51" y2="388.35"/>
</g>
<g font-size="8.0" text-anchor="end" fill="#4d4d4d" stroke="#4d4d4d" stroke-width="0.15">
<text transform="translate(300.45,386.00) scale(1,1.0)" font-size="8.0" text-anchor="end" fill="#4d4d4d" stroke="#4d4d4d" stroke-width="0.2">0.00</text>
<text transform="translate(300.45,369.80) scale(1,1.0)" font-size="8.0" text-anchor="end" fill="#4d4d4d" stroke="#4d4d4d" stroke-width="0.2">0.30</text>
<text transform="translate(300.45,353.60) scale(1,1.0)" font-size="8.0" text-anchor="end" fill="#4d4d4d" stroke="#4d4d4d" stroke-width="0.2">0.60</text>
<text transform="translate(300.45,337.40) scale(1,1.0)" font-size="8.0" text-anchor="end" fill="#4d4d4d" stroke="#4d4d4d" stroke-width="0.2">0.90</text>
</g>
<g font-size="9.5" text-anchor="middle" fill="#4d4d4d" stroke="#4d4d4d" stroke-width="0.15">
<text transform="translate(316.54,397.15) scale(1,0.9)" font-size="9.5" text-anchor="middle" fill="#4d4d4d" stroke="#4d4d4d" stroke-width="0.3">D0</text>
<text transform="translate(336.53,397.15) scale(1,0.9)" font-size="9.5" text-anchor="middle" fill="#4d4d4d" stroke="#4d4d4d" stroke-width="0.3">D8</text>
<text transform="translate(356.51,397.15) scale(1,0.9)" font-size="9.5" text-anchor="middle" fill="#4d4d4d" stroke="#4d4d4d" stroke-width="0.3">D10</text>
</g>
<g stroke="#ebebeb" stroke-width="0.55">
<line x1="392.5" y1="383.50" x2="456.45" y2="383.50"/>
<line x1="392.5" y1="365.40" x2="456.45" y2="365.40"/>
<line x1="392.5" y1="347.30" x2="456.45" y2="347.30"/>
<line x1="392.5" y1="329.20" x2="456.45" y2="329.20"/>
<line x1="404.49" y1="322.5" x2="404.49" y2="386.25"/>
<line x1="424.48" y1="322.5" x2="424.48" y2="386.25"/>
<line x1="444.46" y1="322.5" x2="444.46" y2="386.25"/>
</g>
<g stroke="#f5f5f5" stroke-width="0.35">
<line x1="392.5" y1="374.45" x2="456.45" y2="374.45"/>
<line x1="392.5" y1="356.35" x2="456.45" y2="356.35"/>
<line x1="392.5" y1="338.25" x2="456.45" y2="338.25"/>
</g>
<g stroke="#1a1a1a" stroke-width="0.7">
<rect x="396.50" y="377.00" width="7.99" height="6.50" fill="#ede6e5"/>
<rect x="404.49" y="372.30" width="7.99" height="11.20" fill="#ea4246"/>
<rect x="416.48" y="339.40" width="7.99" height="44.10" fill="#ede6e5"/>
<rect x="424.48" y="328.50" width="7.99" height="55.00" fill="#ea4246"/>
<rect x="436.47" y="367.50" width="7.99" height="16.00" fill="#ede6e5"/>
<rect x="444.46" y="362.50" width="7.99" height="21.00" fill="#ea4246"/>
</g>
<g stroke="#111" stroke-width="0.75" fill="none">
<path d="M406.59 371.80H410.39M406.59 372.80H410.39M408.49 371.80V372.80"/>
<path d="M418.58 336.60H422.38M418.58 342.30H422.38M420.48 336.60V342.30"/>
<path d="M426.57 325.60H430.37M426.57 331.30H430.37M428.47 325.60V331.30"/>
<path d="M438.56 366.80H442.36M438.56 368.20H442.36M440.46 366.80V368.20"/>
<path d="M446.56 360.40H450.36M446.56 364.90H450.36M448.46 360.40V364.90"/>
</g>
<rect x="392.5" y="322.5" width="63.95" height="63.75" fill="none" stroke="#454545" stroke-width="1.05"/>
<rect x="392.5" y="306.3" width="63.95" height="16.20" fill="#fff" stroke="#454545" stroke-width="1.05"/>
<text transform="translate(424.48,317.60) scale(1,1.03)" font-size="9.3" text-anchor="middle" fill="#1a1a1a" stroke="#1a1a1a" stroke-width="0.2" font-style="italic">Sema3f</text>
<g stroke="#333" stroke-width="1">
<line x1="390.40" y1="383.50" x2="392.5" y2="383.50"/>
<line x1="390.40" y1="365.40" x2="392.5" y2="365.40"/>
<line x1="390.40" y1="347.30" x2="392.5" y2="347.30"/>
<line x1="390.40" y1="329.20" x2="392.5" y2="329.20"/>
<line x1="404.49" y1="386.25" x2="404.49" y2="388.35"/>
<line x1="424.48" y1="386.25" x2="424.48" y2="388.35"/>
<line x1="444.46" y1="386.25" x2="444.46" y2="388.35"/>
</g>
<g font-size="8.0" text-anchor="end" fill="#4d4d4d" stroke="#4d4d4d" stroke-width="0.15">
<text transform="translate(388.40,386.30) scale(1,1.0)" font-size="8.0" text-anchor="end" fill="#4d4d4d" stroke="#4d4d4d" stroke-width="0.2">0.00</text>
<text transform="translate(388.40,368.20) scale(1,1.0)" font-size="8.0" text-anchor="end" fill="#4d4d4d" stroke="#4d4d4d" stroke-width="0.2">0.10</text>
<text transform="translate(388.40,350.10) scale(1,1.0)" font-size="8.0" text-anchor="end" fill="#4d4d4d" stroke="#4d4d4d" stroke-width="0.2">0.20</text>
<text transform="translate(388.40,332.00) scale(1,1.0)" font-size="8.0" text-anchor="end" fill="#4d4d4d" stroke="#4d4d4d" stroke-width="0.2">0.30</text>
</g>
<g font-size="9.5" text-anchor="middle" fill="#4d4d4d" stroke="#4d4d4d" stroke-width="0.15">
<text transform="translate(404.49,397.15) scale(1,0.9)" font-size="9.5" text-anchor="middle" fill="#4d4d4d" stroke="#4d4d4d" stroke-width="0.3">D0</text>
<text transform="translate(424.48,397.15) scale(1,0.9)" font-size="9.5" text-anchor="middle" fill="#4d4d4d" stroke="#4d4d4d" stroke-width="0.3">D8</text>
<text transform="translate(444.46,397.15) scale(1,0.9)" font-size="9.5" text-anchor="middle" fill="#4d4d4d" stroke="#4d4d4d" stroke-width="0.3">D10</text>
</g>
<g stroke="#ebebeb" stroke-width="0.55">
<line x1="40.55" y1="480.70" x2="104.50" y2="480.70"/>
<line x1="40.55" y1="463.80" x2="104.50" y2="463.80"/>
<line x1="40.55" y1="446.90" x2="104.50" y2="446.90"/>
<line x1="40.55" y1="430.00" x2="104.50" y2="430.00"/>
<line x1="52.54" y1="419.75" x2="52.54" y2="483.5"/>
<line x1="72.53" y1="419.75" x2="72.53" y2="483.5"/>
<line x1="92.51" y1="419.75" x2="92.51" y2="483.5"/>
</g>
<g stroke="#f5f5f5" stroke-width="0.35">
<line x1="40.55" y1="472.25" x2="104.50" y2="472.25"/>
<line x1="40.55" y1="455.35" x2="104.50" y2="455.35"/>
<line x1="40.55" y1="438.45" x2="104.50" y2="438.45"/>
<line x1="40.55" y1="421.55" x2="104.50" y2="421.55"/>
</g>
<g stroke="#1a1a1a" stroke-width="0.7">
<rect x="44.55" y="470.00" width="7.99" height="10.70" fill="#ede6e5"/>
<rect x="52.54" y="471.20" width="7.99" height="9.50" fill="#ea4246"/>
<rect x="64.53" y="434.50" width="7.99" height="46.20" fill="#ede6e5"/>
<rect x="72.53" y="425.50" width="7.99" height="55.20" fill="#ea4246"/>
<rect x="84.52" y="439.50" width="7.99" height="41.20" fill="#ede6e5"/>
<rect x="92.51" y="479.50" width="7.99" height="1.20" fill="#ea4246"/>
</g>
<g stroke="#111" stroke-width="0.75" fill="none">
<path d="M46.64 469.70H50.44M46.64 470.30H50.44M48.54 469.70V470.30"/>
<path d="M54.64 469.50H58.44M54.64 472.60H58.44M56.54 469.50V472.60"/>
<path d="M66.63 432.60H70.43M66.63 436.20H70.43M68.53 432.60V436.20"/>
<path d="M74.62 422.90H78.42M74.62 427.90H78.42M76.52 422.90V427.90"/>
<path d="M86.61 437.90H90.41M86.61 441.20H90.41M88.51 437.90V441.20"/>
</g>
<rect x="40.55" y="419.75" width="63.95" height="63.75" fill="none" stroke="#454545" stroke-width="1.05"/>
<rect x="40.55" y="403.7" width="63.95" height="16.05" fill="#fff" stroke="#454545" stroke-width="1.05"/>
<text transform="translate(72.53,414.93) scale(1,1.03)" font-size="9.3" text-anchor="middle" fill="#1a1a1a" stroke="#1a1a1a" stroke-width="0.2" font-style="italic">Cxcr4</text>
<g stroke="#333" stroke-width="1">
<line x1="38.45" y1="480.70" x2="40.55" y2="480.70"/>
<line x1="38.45" y1="463.80" x2="40.55" y2="463.80"/>
<line x1="38.45" y1="446.90" x2="40.55" y2="446.90"/>
<line x1="38.45" y1="430.00" x2="40.55" y2="430.00"/>
<line x1="52.54" y1="483.5" x2="52.54" y2="485.6"/>
<line x1="72.53" y1="483.5" x2="72.53" y2="485.6"/>
<line x1="92.51" y1="483.5" x2="92.51" y2="485.6"/>
</g>
<g font-size="8.0" text-anchor="end" fill="#4d4d4d" stroke="#4d4d4d" stroke-width="0.15">
<text transform="translate(36.45,483.50) scale(1,1.0)" font-size="8.0" text-anchor="end" fill="#4d4d4d" stroke="#4d4d4d" stroke-width="0.2">0.00</text>
<text transform="translate(36.45,466.60) scale(1,1.0)" font-size="8.0" text-anchor="end" fill="#4d4d4d" stroke="#4d4d4d" stroke-width="0.2">0.25</text>
<text transform="translate(36.45,449.70) scale(1,1.0)" font-size="8.0" text-anchor="end" fill="#4d4d4d" stroke="#4d4d4d" stroke-width="0.2">0.50</text>
<text transform="translate(36.45,432.80) scale(1,1.0)" font-size="8.0" text-anchor="end" fill="#4d4d4d" stroke="#4d4d4d" stroke-width="0.2">0.75</text>
</g>
<g font-size="9.5" text-anchor="middle" fill="#4d4d4d" stroke="#4d4d4d" stroke-width="0.15">
<text transform="translate(52.54,494.40) scale(1,0.9)" font-size="9.5" text-anchor="middle" fill="#4d4d4d" stroke="#4d4d4d" stroke-width="0.3">D0</text>
<text transform="translate(72.53,494.40) scale(1,0.9)" font-size="9.5" text-anchor="middle" fill="#4d4d4d" stroke="#4d4d4d" stroke-width="0.3">D8</text>
<text transform="translate(92.51,494.40) scale(1,0.9)" font-size="9.5" text-anchor="middle" fill="#4d4d4d" stroke="#4d4d4d" stroke-width="0.3">D10</text>
</g>
<g stroke="#ebebeb" stroke-width="0.55">
<line x1="128.55" y1="480.50" x2="192.50" y2="480.50"/>
<line x1="128.55" y1="462.10" x2="192.50" y2="462.10"/>
<line x1="128.55" y1="443.70" x2="192.50" y2="443.70"/>
<line x1="128.55" y1="425.30" x2="192.50" y2="425.30"/>
<line x1="140.54" y1="419.75" x2="140.54" y2="483.5"/>
<line x1="160.53" y1="419.75" x2="160.53" y2="483.5"/>
<line x1="180.51" y1="419.75" x2="180.51" y2="483.5"/>
</g>
<g stroke="#f5f5f5" stroke-width="0.35">
<line x1="128.55" y1="471.30" x2="192.50" y2="471.30"/>
<line x1="128.55" y1="452.90" x2="192.50" y2="452.90"/>
<line x1="128.55" y1="434.50" x2="192.50" y2="434.50"/>
</g>
<g stroke="#1a1a1a" stroke-width="0.7">
<rect x="132.55" y="480.30" width="7.99" height="0.20" fill="#ede6e5"/>
<rect x="140.54" y="480.30" width="7.99" height="0.20" fill="#ea4246"/>
<rect x="152.53" y="436.90" width="7.99" height="43.60" fill="#ede6e5"/>
<rect x="160.53" y="479.50" width="7.99" height="1.00" fill="#ea4246"/>
<rect x="172.52" y="433.60" width="7.99" height="46.90" fill="#ede6e5"/>
<rect x="180.51" y="480.30" width="7.99" height="0.20" fill="#ea4246"/>
</g>
<g stroke="#111" stroke-width="0.75" fill="none">
<path d="M154.63 423.60H158.43M154.63 450.20H158.43M156.53 423.60V450.20"/>
<path d="M162.62 479.10H166.42M162.62 479.90H166.42M164.52 479.10V479.90"/>
<path d="M174.61 422.40H178.41M174.61 444.50H178.41M176.51 422.40V444.50"/>
</g>
<rect x="128.55" y="419.75" width="63.95" height="63.75" fill="none" stroke="#454545" stroke-width="1.05"/>
<rect x="128.55" y="403.7" width="63.95" height="16.05" fill="#fff" stroke="#454545" stroke-width="1.05"/>
<text transform="translate(160.53,414.93) scale(1,1.03)" font-size="9.3" text-anchor="middle" fill="#1a1a1a" stroke="#1a1a1a" stroke-width="0.2" font-style="italic">Lhx5</text>
<g stroke="#333" stroke-width="1">
<line x1="126.45" y1="480.50" x2="128.55" y2="480.50"/>
<line x1="126.45" y1="462.10" x2="128.55" y2="462.10"/>
<line x1="126.45" y1="443.70" x2="128.55" y2="443.70"/>
<line x1="126.45" y1="425.30" x2="128.55" y2="425.30"/>
<line x1="140.54" y1="483.5" x2="140.54" y2="485.6"/>
<line x1="160.53" y1="483.5" x2="160.53" y2="485.6"/>
<line x1="180.51" y1="483.5" x2="180.51" y2="485.6"/>
</g>
<g font-size="8.0" text-anchor="end" fill="#4d4d4d" stroke="#4d4d4d" stroke-width="0.15">
<text transform="translate(124.45,483.30) scale(1,1.0)" font-size="8.0" text-anchor="end" fill="#4d4d4d" stroke="#4d4d4d" stroke-width="0.2">0.00</text>
<text transform="translate(124.45,464.90) scale(1,1.0)" font-size="8.0" text-anchor="end" fill="#4d4d4d" stroke="#4d4d4d" stroke-width="0.2">0.05</text>
<text transform="translate(124.45,446.50) scale(1,1.0)" font-size="8.0" text-anchor="end" fill="#4d4d4d" stroke="#4d4d4d" stroke-width="0.2">0.10</text>
<text transform="translate(124.45,428.10) scale(1,1.0)" font-size="8.0" text-anchor="end" fill="#4d4d4d" stroke="#4d4d4d" stroke-width="0.2">0.15</text>
</g>
<g font-size="9.5" text-anchor="middle" fill="#4d4d4d" stroke="#4d4d4d" stroke-width="0.15">
<text transform="translate(140.54,494.40) scale(1,0.9)" font-size="9.5" text-anchor="middle" fill="#4d4d4d" stroke="#4d4d4d" stroke-width="0.3">D0</text>
<text transform="translate(160.53,494.40) scale(1,0.9)" font-size="9.5" text-anchor="middle" fill="#4d4d4d" stroke="#4d4d4d" stroke-width="0.3">D8</text>
<text transform="translate(180.51,494.40) scale(1,0.9)" font-size="9.5" text-anchor="middle" fill="#4d4d4d" stroke="#4d4d4d" stroke-width="0.3">D10</text>
</g>
<g stroke="#ebebeb" stroke-width="0.55">
<line x1="216.55" y1="480.50" x2="280.50" y2="480.50"/>
<line x1="216.55" y1="466.45" x2="280.50" y2="466.45"/>
<line x1="216.55" y1="452.40" x2="280.50" y2="452.40"/>
<line x1="216.55" y1="438.35" x2="280.50" y2="438.35"/>
<line x1="216.55" y1="424.30" x2="280.50" y2="424.30"/>
<line x1="228.54" y1="419.75" x2="228.54" y2="483.5"/>
<line x1="248.53" y1="419.75" x2="248.53" y2="483.5"/>
<line x1="268.51" y1="419.75" x2="268.51" y2="483.5"/>
</g>
<g stroke="#f5f5f5" stroke-width="0.35">
<line x1="216.55" y1="473.48" x2="280.50" y2="473.48"/>
<line x1="216.55" y1="459.43" x2="280.50" y2="459.43"/>
<line x1="216.55" y1="445.38" x2="280.50" y2="445.38"/>
<line x1="216.55" y1="431.32" x2="280.50" y2="431.32"/>
</g>
<g stroke="#1a1a1a" stroke-width="0.7">
<rect x="220.55" y="479.50" width="7.99" height="1.00" fill="#ede6e5"/>
<rect x="228.54" y="475.20" width="7.99" height="5.30" fill="#ea4246"/>
<rect x="240.53" y="426.90" width="7.99" height="53.60" fill="#ede6e5"/>
<rect x="248.53" y="475.70" width="7.99" height="4.80" fill="#ea4246"/>
<rect x="260.52" y="477.40" width="7.99" height="3.10" fill="#ede6e5"/>
<rect x="268.51" y="479.80" width="7.99" height="0.70" fill="#ea4246"/>
</g>
<g stroke="#111" stroke-width="0.75" fill="none">
<path d="M242.63 422.60H246.43M242.63 431.20H246.43M244.53 422.60V431.20"/>
<path d="M250.62 475.20H254.42M250.62 476.20H254.42M252.52 475.20V476.20"/>
<path d="M262.61 477.10H266.41M262.61 477.70H266.41M264.51 477.10V477.70"/>
</g>
<rect x="216.55" y="419.75" width="63.95" height="63.75" fill="none" stroke="#454545" stroke-width="1.05"/>
<rect x="216.55" y="403.7" width="63.95" height="16.05" fill="#fff" stroke="#454545" stroke-width="1.05"/>
<text transform="translate(248.53,414.93) scale(1,1.03)" font-size="9.3" text-anchor="middle" fill="#1a1a1a" stroke="#1a1a1a" stroke-width="0.2" font-style="italic">Ntng2</text>
<g stroke="#333" stroke-width="1">
<line x1="214.45" y1="480.50" x2="216.55" y2="480.50"/>
<line x1="214.45" y1="466.45" x2="216.55" y2="466.45"/>
<line x1="214.45" y1="452.40" x2="216.55" y2="452.40"/>
<line x1="214.45" y1="438.35" x2="216.55" y2="438.35"/>
<line x1="214.45" y1="424.30" x2="216.55" y2="424.30"/>
<line x1="228.54" y1="483.5" x2="228.54" y2="485.6"/>
<line x1="248.53" y1="483.5" x2="248.53" y2="485.6"/>
<line x1="268.51" y1="483.5" x2="268.51" y2="485.6"/>
</g>
<g font-size="8.0" text-anchor="end" fill="#4d4d4d" stroke="#4d4d4d" stroke-width="0.15">
<text transform="translate(212.45,483.30) scale(1,1.0)" font-size="8.0" text-anchor="end" fill="#4d4d4d" stroke="#4d4d4d" stroke-width="0.2">0.00</text>
<text transform="translate(212.45,469.25) scale(1,1.0)" font-size="8.0" text-anchor="end" fill="#4d4d4d" stroke="#4d4d4d" stroke-width="0.2">0.02</text>
<text transform="translate(212.45,455.20) scale(1,1.0)" font-size="8.0" text-anchor="end" fill="#4d4d4d" stroke="#4d4d4d" stroke-width="0.2">0.04</text>
<text transform="translate(212.45,441.15) scale(1,1.0)" font-size="8.0" text-anchor="end" fill="#4d4d4d" stroke="#4d4d4d" stroke-width="0.2">0.06</text>
<text transform="translate(212.45,427.10) scale(1,1.0)" font-size="8.0" text-anchor="end" fill="#4d4d4d" stroke="#4d4d4d" stroke-width="0.2">0.08</text>
</g>
<g font-size="9.5" text-anchor="middle" fill="#4d4d4d" stroke="#4d4d4d" stroke-width="0.15">
<text transform="translate(228.54,494.40) scale(1,0.9)" font-size="9.5" text-anchor="middle" fill="#4d4d4d" stroke="#4d4d4d" stroke-width="0.3">D0</text>
<text transform="translate(248.53,494.40) scale(1,0.9)" font-size="9.5" text-anchor="middle" fill="#4d4d4d" stroke="#4d4d4d" stroke-width="0.3">D8</text>
<text transform="translate(268.51,494.40) scale(1,0.9)" font-size="9.5" text-anchor="middle" fill="#4d4d4d" stroke="#4d4d4d" stroke-width="0.3">D10</text>
</g>
<g stroke="#ebebeb" stroke-width="0.55">
<line x1="304.55" y1="480.50" x2="368.50" y2="480.50"/>
<line x1="304.55" y1="464.00" x2="368.50" y2="464.00"/>
<line x1="304.55" y1="447.50" x2="368.50" y2="447.50"/>
<line x1="304.55" y1="431.00" x2="368.50" y2="431.00"/>
<line x1="316.54" y1="419.75" x2="316.54" y2="483.5"/>
<line x1="336.53" y1="419.75" x2="336.53" y2="483.5"/>
<line x1="356.51" y1="419.75" x2="356.51" y2="483.5"/>
</g>
<g stroke="#f5f5f5" stroke-width="0.35">
<line x1="304.55" y1="472.25" x2="368.50" y2="472.25"/>
<line x1="304.55" y1="455.75" x2="368.50" y2="455.75"/>
<line x1="304.55" y1="439.25" x2="368.50" y2="439.25"/>
<line x1="304.55" y1="422.75" x2="368.50" y2="422.75"/>
</g>
<g stroke="#1a1a1a" stroke-width="0.7">
<rect x="308.55" y="480.20" width="7.99" height="0.30" fill="#ede6e5"/>
<rect x="316.54" y="480.00" width="7.99" height="0.50" fill="#ea4246"/>
<rect x="328.53" y="425.20" width="7.99" height="55.30" fill="#ede6e5"/>
<rect x="336.53" y="475.50" width="7.99" height="5.00" fill="#ea4246"/>
<rect x="348.52" y="469.80" width="7.99" height="10.70" fill="#ede6e5"/>
<rect x="356.51" y="479.50" width="7.99" height="1.00" fill="#ea4246"/>
</g>
<g stroke="#111" stroke-width="0.75" fill="none">
<path d="M330.63 422.90H334.43M330.63 427.60H334.43M332.53 422.90V427.60"/>
<path d="M338.62 475.20H342.42M338.62 475.80H342.42M340.52 475.20V475.80"/>
<path d="M350.61 468.80H354.41M350.61 471.00H354.41M352.51 468.80V471.00"/>
</g>
<rect x="304.55" y="419.75" width="63.95" height="63.75" fill="none" stroke="#454545" stroke-width="1.05"/>
<rect x="304.55" y="403.7" width="63.95" height="16.05" fill="#fff" stroke="#454545" stroke-width="1.05"/>
<text transform="translate(336.52,414.93) scale(1,1.03)" font-size="9.3" text-anchor="middle" fill="#1a1a1a" stroke="#1a1a1a" stroke-width="0.2" font-style="italic">Pax6</text>
<g stroke="#333" stroke-width="1">
<line x1="302.45" y1="480.50" x2="304.55" y2="480.50"/>
<line x1="302.45" y1="464.00" x2="304.55" y2="464.00"/>
<line x1="302.45" y1="447.50" x2="304.55" y2="447.50"/>
<line x1="302.45" y1="431.00" x2="304.55" y2="431.00"/>
<line x1="316.54" y1="483.5" x2="316.54" y2="485.6"/>
<line x1="336.53" y1="483.5" x2="336.53" y2="485.6"/>
<line x1="356.51" y1="483.5" x2="356.51" y2="485.6"/>
</g>
<g font-size="8.0" text-anchor="end" fill="#4d4d4d" stroke="#4d4d4d" stroke-width="0.15">
<text transform="translate(300.45,483.30) scale(1,1.0)" font-size="8.0" text-anchor="end" fill="#4d4d4d" stroke="#4d4d4d" stroke-width="0.2">0.00</text>
<text transform="translate(300.45,466.80) scale(1,1.0)" font-size="8.0" text-anchor="end" fill="#4d4d4d" stroke="#4d4d4d" stroke-width="0.2">0.25</text>
<text transform="translate(300.45,450.30) scale(1,1.0)" font-size="8.0" text-anchor="end" fill="#4d4d4d" stroke="#4d4d4d" stroke-width="0.2">0.50</text>
<text transform="translate(300.45,433.80) scale(1,1.0)" font-size="8.0" text-anchor="end" fill="#4d4d4d" stroke="#4d4d4d" stroke-width="0.2">0.75</text>
</g>
<g font-size="9.5" text-anchor="middle" fill="#4d4d4d" stroke="#4d4d4d" stroke-width="0.15">
<text transform="translate(316.54,494.40) scale(1,0.9)" font-size="9.5" text-anchor="middle" fill="#4d4d4d" stroke="#4d4d4d" stroke-width="0.3">D0</text>
<text transform="translate(336.53,494.40) scale(1,0.9)" font-size="9.5" text-anchor="middle" fill="#4d4d4d" stroke="#4d4d4d" stroke-width="0.3">D8</text>
<text transform="translate(356.51,494.40) scale(1,0.9)" font-size="9.5" text-anchor="middle" fill="#4d4d4d" stroke="#4d4d4d" stroke-width="0.3">D10</text>
</g>
<g stroke="#ebebeb" stroke-width="0.55">
<line x1="392.5" y1="481.00" x2="456.45" y2="481.00"/>
<line x1="392.5" y1="466.00" x2="456.45" y2="466.00"/>
<line x1="392.5" y1="451.00" x2="456.45" y2="451.00"/>
<line x1="392.5" y1="436.00" x2="456.45" y2="436.00"/>
<line x1="392.5" y1="421.00" x2="456.45" y2="421.00"/>
<line x1="404.49" y1="419.75" x2="404.49" y2="483.5"/>
<line x1="424.48" y1="419.75" x2="424.48" y2="483.5"/>
<line x1="444.46" y1="419.75" x2="444.46" y2="483.5"/>
</g>
<g stroke="#f5f5f5" stroke-width="0.35">
<line x1="392.5" y1="473.50" x2="456.45" y2="473.50"/>
<line x1="392.5" y1="458.50" x2="456.45" y2="458.50"/>
<line x1="392.5" y1="443.50" x2="456.45" y2="443.50"/>
<line x1="392.5" y1="428.50" x2="456.45" y2="428.50"/>
</g>
<g stroke="#1a1a1a" stroke-width="0.7">
<rect x="396.50" y="461.90" width="7.99" height="19.10" fill="#ede6e5"/>
<rect x="404.49" y="458.60" width="7.99" height="22.40" fill="#ea4246"/>
<rect x="416.48" y="427.40" width="7.99" height="53.60" fill="#ede6e5"/>
<rect x="424.48" y="452.60" width="7.99" height="28.40" fill="#ea4246"/>
<rect x="436.47" y="458.10" width="7.99" height="22.90" fill="#ede6e5"/>
<rect x="444.46" y="472.40" width="7.99" height="8.60" fill="#ea4246"/>
</g>
<g stroke="#111" stroke-width="0.75" fill="none">
<path d="M398.59 461.50H402.39M398.59 462.30H402.39M400.49 461.50V462.30"/>
<path d="M406.59 457.40H410.39M406.59 459.80H410.39M408.49 457.40V459.80"/>
<path d="M418.58 422.60H422.38M418.58 432.10H422.38M420.48 422.60V432.10"/>
<path d="M426.57 450.00H430.37M426.57 455.20H430.37M428.47 450.00V455.20"/>
<path d="M438.56 453.30H442.36M438.56 462.90H442.36M440.46 453.30V462.90"/>
<path d="M446.56 471.00H450.36M446.56 474.00H450.36M448.46 471.00V474.00"/>
</g>
<rect x="392.5" y="419.75" width="63.95" height="63.75" fill="none" stroke="#454545" stroke-width="1.05"/>
<rect x="392.5" y="403.7" width="63.95" height="16.05" fill="#fff" stroke="#454545" stroke-width="1.05"/>
<text transform="translate(424.48,414.93) scale(1,1.03)" font-size="9.3" text-anchor="middle" fill="#1a1a1a" stroke="#1a1a1a" stroke-width="0.2" font-style="italic">Tcf4</text>
<g stroke="#333" stroke-width="1">
<line x1="390.40" y1="481.00" x2="392.5" y2="481.00"/>
<line x1="390.40" y1="466.00" x2="392.5" y2="466.00"/>
<line x1="390.40" y1="451.00" x2="392.5" y2="451.00"/>
<line x1="390.40" y1="436.00" x2="392.5" y2="436.00"/>
<line x1="390.40" y1="421.00" x2="392.5" y2="421.00"/>
<line x1="404.49" y1="483.5" x2="404.49" y2="485.6"/>
<line x1="424.48" y1="483.5" x2="424.48" y2="485.6"/>
<line x1="444.46" y1="483.5" x2="444.46" y2="485.6"/>
</g>
<g font-size="8.0" text-anchor="end" fill="#4d4d4d" stroke="#4d4d4d" stroke-width="0.15">
<text transform="translate(388.40,483.80) scale(1,1.0)" font-size="8.0" text-anchor="end" fill="#4d4d4d" stroke="#4d4d4d" stroke-width="0.2">0.00</text>
<text transform="translate(388.40,468.80) scale(1,1.0)" font-size="8.0" text-anchor="end" fill="#4d4d4d" stroke="#4d4d4d" stroke-width="0.2">0.30</text>
<text transform="translate(388.40,453.80) scale(1,1.0)" font-size="8.0" text-anchor="end" fill="#4d4d4d" stroke="#4d4d4d" stroke-width="0.2">0.60</text>
<text transform="translate(388.40,438.80) scale(1,1.0)" font-size="8.0" text-anchor="end" fill="#4d4d4d" stroke="#4d4d4d" stroke-width="0.2">0.90</text>
<text transform="translate(388.40,423.80) scale(1,1.0)" font-size="8.0" text-anchor="end" fill="#4d4d4d" stroke="#4d4d4d" stroke-width="0.2">1.20</text>
</g>
<g font-size="9.5" text-anchor="middle" fill="#4d4d4d" stroke="#4d4d4d" stroke-width="0.15">
<text transform="translate(404.49,494.40) scale(1,0.9)" font-size="9.5" text-anchor="middle" fill="#4d4d4d" stroke="#4d4d4d" stroke-width="0.3">D0</text>
<text transform="translate(424.48,494.40) scale(1,0.9)" font-size="9.5" text-anchor="middle" fill="#4d4d4d" stroke="#4d4d4d" stroke-width="0.3">D8</text>
<text transform="translate(444.46,494.40) scale(1,0.9)" font-size="9.5" text-anchor="middle" fill="#4d4d4d" stroke="#4d4d4d" stroke-width="0.3">D10</text>
</g>
<text transform="translate(12.30,253.30) scale(1,1) rotate(-90)" font-size="9.1" text-anchor="middle" fill="#1a1a1a" stroke="#1a1a1a" stroke-width="0.25">mRNA levels</text>
<text transform="translate(12.30,349.00) scale(1,1) rotate(-90)" font-size="9.1" text-anchor="middle" fill="#1a1a1a" stroke="#1a1a1a" stroke-width="0.25">mRNA levels</text>
<text transform="translate(12.30,448.00) scale(1,1) rotate(-90)" font-size="9.1" text-anchor="middle" fill="#1a1a1a" stroke="#1a1a1a" stroke-width="0.25">mRNA levels</text>
<rect x="149.4" y="535.4" width="9.8" height="9.8" fill="#ede6e5" stroke="#555" stroke-width="0.8"/>
<text transform="translate(163.00,542.80) scale(1,1)" font-size="8.8" fill="#1a1a1a" stroke="#1a1a1a" stroke-width="0.15">WT</text>
<rect x="192.6" y="535.4" width="9.8" height="9.8" fill="#ea4246" stroke="#555" stroke-width="0.8"/>
<text transform="translate(206.20,542.50) scale(1,1)" font-size="8.8" fill="#1a1a1a" stroke="#1a1a1a" stroke-width="0.15">Zeb2</text>
<text transform="translate(227.20,539.30) scale(1,1)" font-size="4.8" fill="#333" textLength="16.6" lengthAdjust="spacingAndGlyphs">ΔP/ΔP</text>
</g>
</svg>
</body></html>
